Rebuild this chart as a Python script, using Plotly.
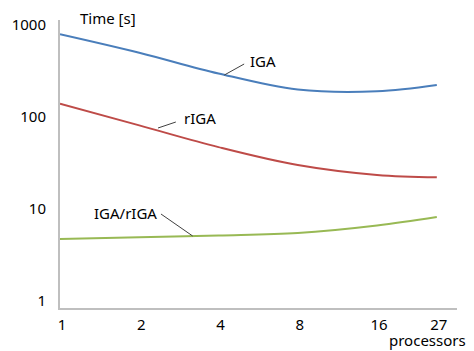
import plotly.graph_objects as go

processors = [1, 2, 4, 8, 16, 27]
tick_labels = ["1", "2", "4", "8", "16", "27"]
iga = [795, 500, 297, 199, 190, 222]
riga = [139, 81, 47, 30, 23.4, 22.1]
ratio = [4.72, 4.92, 5.15, 5.48, 6.62, 8.18]

W, H = 474, 351
L, R, T, B = 56, 17, 20, 43
PW, PH = W - L - R, H - T - B

def px(x):
    return (x - L) / PW

def py(y):
    return (H - B - y) / PH

FONT = "Noto Sans, DejaVu Sans, sans-serif"

fig = go.Figure()
for vals, col in [(iga, "#4A7EBB"), (riga, "#BE4B48"), (ratio, "#98B954")]:
    fig.add_trace(go.Scatter(x=processors, y=vals, mode="lines",
                             line=dict(color=col, width=2, shape="spline", smoothing=1),
                             showlegend=False, hoverinfo="skip"))

ann = []
def text(t, x, y):
    ann.append(dict(text=t, x=px(x), y=py(y), xref="paper", yref="paper",
                    showarrow=False, xanchor="center", yanchor="middle",
                    font=dict(family=FONT, size=15, color="#000000")))

text("Time [s]", 104.5, 18)
text("IGA", 261, 61)
text("rIGA", 197, 118)
text("IGA/rIGA", 122, 213)
text("processors", 427, 340)

shapes = []
for (x0, y0, x1, y1) in [(222, 75, 242, 64), (155, 128, 173, 122), (158, 214, 190, 236)]:
    shapes.append(dict(type="line", xref="paper", yref="paper",
                       x0=px(x0), y0=py(y0), x1=px(x1), y1=py(y1),
                       line=dict(color="#404040", width=1)))

fig.update_layout(
    width=W, height=H,
    margin=dict(l=L, r=R, t=T, b=B, pad=0),
    paper_bgcolor="white", plot_bgcolor="white",
    font=dict(family=FONT, size=15, color="#000000"),
    annotations=ann, shapes=shapes,
    xaxis=dict(type="log", range=[0, 1.508], tickvals=processors, ticktext=tick_labels,
               showgrid=False, zeroline=False, showline=True, linecolor="#BFBFBF",
               linewidth=2, ticks="", ticklabelstandoff=2, ticklabelshift=2),
    yaxis=dict(type="log", range=[-0.076, 3.054], tickvals=[1, 10, 100, 1000],
               ticktext=["1", "10", "100", "1000"],
               showgrid=False, zeroline=False, showline=True, linecolor="#BFBFBF",
               linewidth=2, ticks="", ticklabelstandoff=9),
)

fig.write_html("out.html")
